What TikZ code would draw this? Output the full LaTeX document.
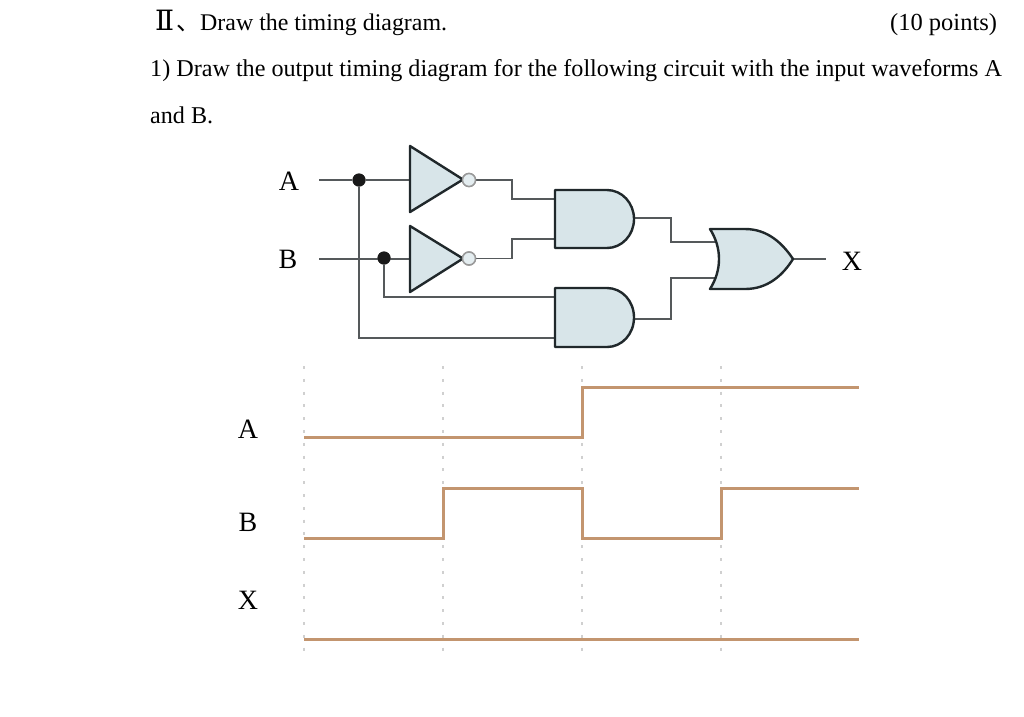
\documentclass[tikz,border=0pt]{standalone}
\usepackage{fontspec}
\setmainfont{Liberation Serif}
\newfontfamily\cjkf{Noto Sans CJK SC}
\newfontfamily\romf{DejaVu Serif}
\definecolor{gatefill}{HTML}{D8E5E9}
\definecolor{gateline}{HTML}{20282B}
\definecolor{wirecol}{HTML}{55595B}
\definecolor{wave}{HTML}{C3956F}
\definecolor{dotcol}{HTML}{D0D0D0}
\tikzset{
 gate/.style={draw=gateline,fill=gatefill,line width=2.4pt,line join=round},
 wire/.style={draw=wirecol,line width=1.5pt},
 dotnode/.style={circle,fill=black!90,inner sep=0pt,minimum size=13pt},
 bubble/.style={circle,draw=gray!80,fill=gatefill!70,line width=1.5pt,inner sep=0pt,minimum size=13pt},
 wavel/.style={draw=wave,line width=3pt,line join=miter},
 grid/.style={draw=dotcol,line width=2.2pt,dash pattern=on 3pt off 9.8pt},
 body/.style={font=\fontsize{24.1}{26}\selectfont,anchor=base west,inner sep=0pt},
 lab/.style={font=\fontsize{28}{30}\selectfont,inner sep=0pt},
}
\begin{document}
\begin{tikzpicture}[x=1pt,y=-1pt]
\useasboundingbox (0,0) rectangle (1024,716);
% Text
\node[body,font=\fontsize{28}{30}\selectfont] (t1) at (155,30) {\romf Ⅱ};
\node[body] (t1b) at (176,30) {\cjkf 、};
\node[body,font=\fontsize{23.9}{26}\selectfont] (t2) at (200,30) {Draw the timing diagram.};
\node[body,font=\fontsize{24.5}{26}\selectfont] (t3) at (890,30) {(10 points)};
\node[body,font=\fontsize{24.15}{26}\selectfont] (t4) at (150,76) {1) Draw the output timing diagram for the following circuit with the input waveforms A};
\node[body] (t5) at (150,123) {and B.};
% Labels
\node[lab] (la) at (289,181) {A};
\node[lab] (lb) at (288,259) {B};
\node[lab] (lx) at (852,261) {X};
\node[lab] (ta) at (248,429) {A};
\node[lab] (tb) at (248,522) {B};
\node[lab] (tx) at (248,600) {X};
% Coordinates
\coordinate (ina) at (319,180);
\coordinate (inb) at (319,259);
\node[dotnode] (ja) at (359,180) {};
\node[dotnode] (jb) at (384,258) {};
\coordinate (inva) at (410,180);
\coordinate (invb) at (410,259);
\node[bubble] (ba) at (469,180) {};
\node[bubble] (bb) at (469,258.5) {};
\coordinate (a1i) at (555,199);
\coordinate (a1j) at (555,239);
\coordinate (a2i) at (555,297);
\coordinate (a2j) at (555,338);
\coordinate (a1o) at (634,218);
\coordinate (a2o) at (634,319);
\coordinate (oi) at (715,242);
\coordinate (oj) at (715,278);
\coordinate (oo) at (793,259);
\coordinate (xend) at (826,259);
% Wires
\draw[wire] (ina) -- (ja) -- (inva);
\draw[wire] (inb) -- (jb |- inb) -- (invb);
\draw[wire] (ja) -- (ja |- a2j) -- (a2j);
\draw[wire] (jb) -- (jb |- a2i) -- (a2i);
\draw[wire] (ba.east) -- (512,180) -- (512,199) -- (a1i);
\draw[wire] (bb.east) -- (512,258.5) -- (512,239) -- (a1j);
\draw[wire] (a1o) -- (671,218) -- (671,242) -- (oi);
\draw[wire] (a2o) -- (671,319) -- (671,278) -- (oj);
\draw[wire] (oo) -- (xend);
\node[dotnode] at (ja) {};
\node[dotnode] at (jb) {};
% Gates
\draw[gate] (410,146) -- (463,179.5) -- (410,212) -- cycle;
\draw[gate] (410,226) -- (463,258.5) -- (410,292) -- cycle;
\node[bubble] at (ba) {};
\node[bubble] at (bb) {};
\draw[gate] (555,190) -- (607,190) .. controls (622,190) and (634,203) .. (634,219) .. controls (634,235) and (622,248) .. (607,248) -- (555,248) -- cycle;
\draw[gate] (555,288) -- (607,288) .. controls (622,288) and (634,301) .. (634,317.5) .. controls (634,334) and (622,347) .. (607,347) -- (555,347) -- cycle;
\draw[gate] (710,229) -- (745,229) .. controls (768,229) and (783,244) .. (793,259) .. controls (783,275) and (768,289) .. (745,289) -- (710,289) .. controls (722,270) and (722,248) .. (710,229) -- cycle;
% Timing
\foreach \x in {304,443,582,721}{
  \draw[grid] (\x,366) -- (\x,660);
}
\coordinate (wa) at (304,437);
\coordinate (wb) at (304,538);
\coordinate (wx) at (304,639);
\coordinate (wae) at (859,387);
\coordinate (wbe) at (859,488);
\coordinate (wxe) at (859,639);
\draw[wavel] (wa) -- (582,437) -- (582,387) -- (wae);
\draw[wavel] (wb) -- (443,538) -- (443,488) -- (582,488) -- (582,538) -- (721,538) -- (721,488) -- (wbe);
\draw[wavel] (wx) -- (wxe);
\end{tikzpicture}
\end{document}
